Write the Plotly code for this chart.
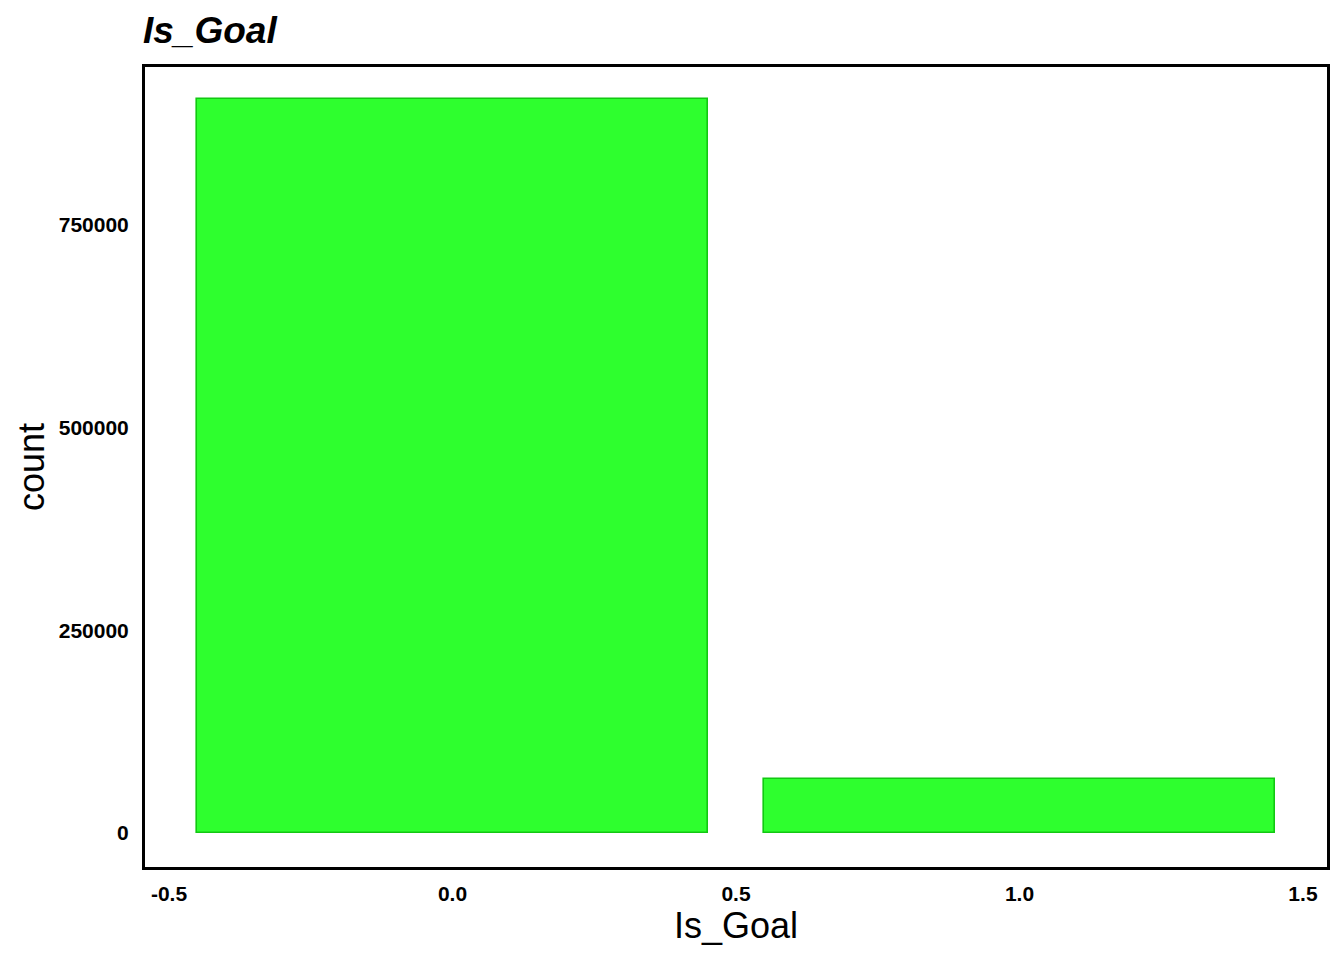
import plotly.graph_objects as go

categories = [0, 1]
counts = [905000, 66200]
x_ticks = [-0.5, 0.0, 0.5, 1.0, 1.5]
x_tick_labels = ["-0.5", "0.0", "0.5", "1.0", "1.5"]
y_ticks = [0, 250000, 500000, 750000]
y_tick_labels = ["0", "250000", "500000", "750000"]

FONT = "Liberation Sans, Arial, sans-serif"

fig = go.Figure()
fig.add_trace(go.Bar(
    x=categories, y=counts, width=0.9,
    marker=dict(color="#2EFF2E", line=dict(color="#12C812", width=1.6)),
    showlegend=False,
))

fig.update_layout(
    width=1344, height=960,
    paper_bgcolor="white", plot_bgcolor="white",
    margin=dict(l=145, r=17, t=67, b=93, pad=0),
    title=dict(text="Is_Goal", x=143 / 1344, xref="container", xanchor="left",
               y=1 - 30 / 960, yref="container", yanchor="middle",
               font=dict(family=FONT, size=37, color="black", weight="bold", style="italic")),
    bargap=0,
)
fig.update_xaxes(
    range=[-0.5424, 1.5424], tickmode="array", tickvals=x_ticks, ticktext=x_tick_labels,
    showgrid=False, zeroline=False,
    showline=True, linecolor="black", linewidth=3, mirror=True,
    ticks="outside", ticklen=6, tickcolor="rgba(0,0,0,0)",
    tickfont=dict(family=FONT, size=21, color="black", weight="bold"),
    title=dict(text="Is_Goal", font=dict(family=FONT, size=36, color="black"), standoff=4),
)
fig.update_yaxes(
    range=[-41900, 944500], tickmode="array", tickvals=y_ticks, ticktext=y_tick_labels,
    showgrid=False, zeroline=False,
    showline=True, linecolor="black", linewidth=3, mirror=True,
    ticks="outside", ticklen=9, tickcolor="rgba(0,0,0,0)",
    tickfont=dict(family=FONT, size=21, color="black", weight="bold"),
    title=dict(text="count", font=dict(family=FONT, size=36, color="black"), standoff=4),
)

fig.write_html(
    "out.html",
    config={"displayModeBar": False},
    post_script="document.body.style.margin='0';document.body.style.overflow='hidden';",
)
